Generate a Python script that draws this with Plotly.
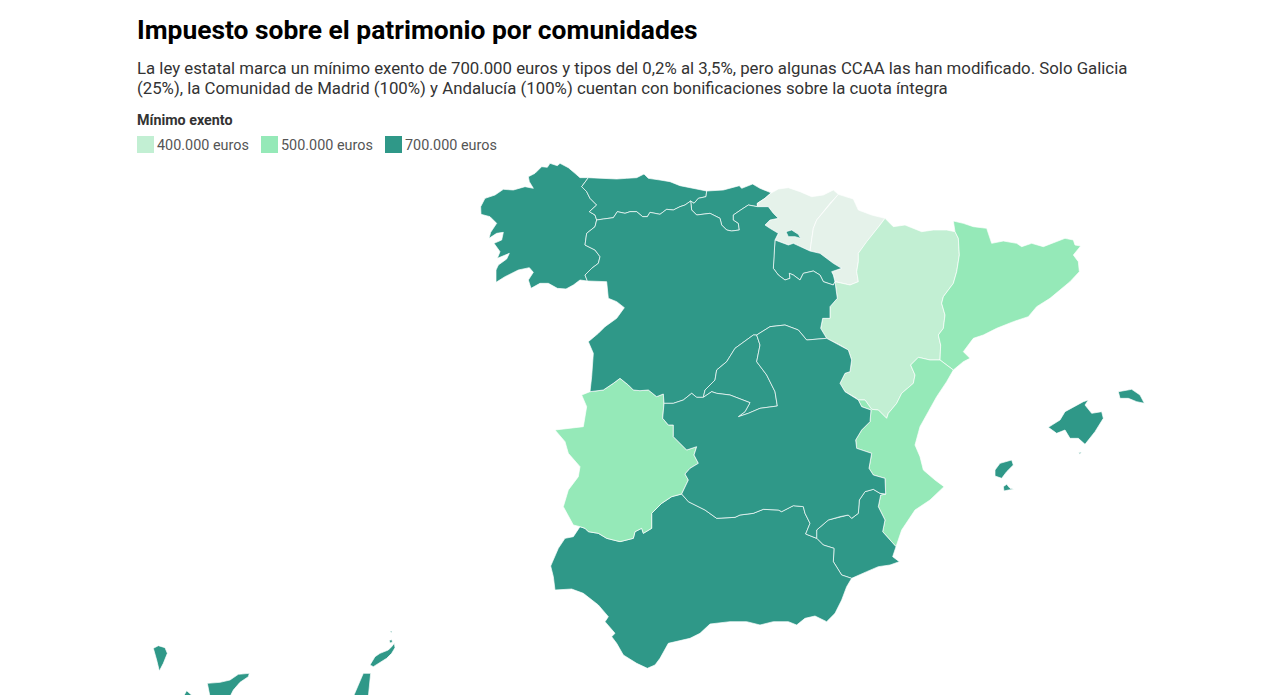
import plotly.graph_objects as go

TITLE = "Impuesto sobre el patrimonio por comunidades"
SUBTITLE = [
    "La ley estatal marca un mínimo exento de 700.000 euros y tipos del 0,2% al 3,5%, pero algunas CCAA las han modificado. Solo Galicia",
    "(25%), la Comunidad de Madrid (100%) y Andalucía (100%) cuentan con bonificaciones sobre la cuota íntegra",
]
LEGEND_TITLE = "Mínimo exento"
LEGEND_LABELS = ["400.000 euros", "500.000 euros", "700.000 euros"]

C_NONE = "#e5f2ea"
C_400 = "#c2efd3"
C_500 = "#95e9b8"
C_700 = "#2f9888"


def crop(x0, y0, pts):
    # outlines were traced on 3x crops of the picture
    return [(x0 + x / 3, y0 + y / 3) for x, y in pts]


def rev(seg):
    return seg[::-1]


# shared borders and coasts
gal_coast = crop(470, 155, [(355,68),(330,68),(315,55),(295,38),(270,25),(262,32),(240,25),(232,37),(215,35),(195,55),(175,65),(178,80),(190,100),(165,95),(130,105),(100,103),(75,120),(45,130),(32,155),(33,178),(60,185),(80,205),(62,232),(57,250),(80,235),(100,232),(95,255),(72,265),(90,290),(82,310),(118,295),(110,312),(85,330),(78,345),(78,382),(105,365),(145,345),(178,338),(190,352),(175,375),(183,400),(210,385),(235,385),(262,400),(288,402),(310,390),(330,375),(352,378)])
gal_ast = crop(470, 155, [(355,68),(335,95),(350,110),(360,130),(380,150),(358,170),(375,180),(380,195)])
gal_cyl = crop(470, 155, [(380,195),(375,215),(350,235),(345,270),(375,285),(390,305),(385,325),(365,340),(345,360),(352,378)])
ast_coast = crop(470, 155, [(355,68),(400,70),(440,72),(470,70),(500,68),(522,57),(535,70),(570,75),(600,80),(630,92),(670,100),(710,108)])
ast_cant = crop(470, 155, [(710,108),(708,125),(685,130),(672,145),(662,138)])
ast_cyl = crop(470, 155, [(380,195),(400,192),(430,188),(442,170),(465,175),(480,170),(500,170),(518,185),(532,185),(540,172),(570,178),(590,163),(610,165),(630,155),(645,150),(662,138)])
cant_coast = crop(470, 155, [(710,108),(760,105),(808,92),(815,100),(848,87),(870,100),(900,112)])
cant_cyl = crop(470, 155, [(662,138),(665,165),(680,180),(720,175),(750,190),(755,210),(770,225),(785,228),(808,225),(805,205),(790,195),(790,180),(812,165),(835,150),(862,155)])
cant_bas = crop(750, 175, [(62,55),(45,70),(22,85),(22,95)])
cyl_bas = crop(750, 175, [(22,95),(55,95),(70,115),(85,130),(60,135),(45,150),(60,160),(85,175),(75,195)])
bas_coast = crop(750, 175, [(62,55),(85,42),(115,38),(150,50),(185,65),(220,60),(250,45),(265,58)])
bas_nav = crop(750, 175, [(265,58),(240,85),(225,105),(200,135),(190,160),(185,190),(180,228)])
rio_bas = crop(750, 175, [(75,195),(115,210),(130,205),(180,228)])
rio_nav = crop(750, 175, [(180,228),(210,235),(250,265),(275,280),(245,290),(250,300),(255,320)])
rio_cyl = crop(750, 175, [(75,195),(72,240),(70,280),(85,300),(105,315),(120,310),(118,295),(130,300),(150,315),(160,295),(190,288),(210,300),(220,320),(250,330),(255,320)])
nav_coast = crop(750, 175, [(265,58),(285,65),(310,72),(325,105),(365,120),(405,130)])
nav_ara = crop(750, 175, [(405,130),(390,150),(350,200),(325,235),(325,260),(320,290),(325,320),(300,330),(255,320)])
ara_north = crop(750, 175, [(405,130),(430,155),(465,150),(490,160),(515,170),(550,165),(590,165),(615,170)])
ara_cat = crop(750, 175, [(615,170),(625,190),(628,240),(620,290),(610,325),(580,365),(575,385),(585,420),(580,460),(565,480),(572,510),(570,555)])
cat_coast = crop(750, 175, [(615,170),(610,138),(640,145),(670,155),(710,160),(725,205),(760,198),(800,205),(815,215),(845,205),(880,215),(905,205),(945,190),(970,195),(975,210),(992,213),(970,240),(985,260),(988,290),(960,320),(930,345),(900,370),(860,395),(835,425),(790,440),(740,460),(700,480),(670,490),(640,530),(660,550),(640,560)])
cat_val = crop(790, 350, [(450,30),(470,45),(490,60)])
val_coast = crop(790, 350, [(490,60),(470,95),(440,140),(415,185),(390,230),(375,285),(390,320),(400,360),(435,390),(462,410),(420,450),(375,480),(350,520),(335,540),(318,590)])
ara_val = crop(790, 350, [(450,30),(420,30),(385,22),(362,45),(375,75),(370,100),(335,130),(320,160),(295,190),(290,205),(265,180),(245,178),(225,150),(205,150)])
clm_val = crop(790, 350, [(205,150),(215,170),(243,180),(240,215),(215,240),(197,270),(200,295),(245,310),(237,355),(250,375),(285,385),(287,432)])
mur_val = crop(790, 350, [(287,432),(272,435),(265,470),(285,510),(278,545),(318,590)])
clm_mur = crop(790, 350, [(80,565),(80,540),(115,510),(150,500),(175,495),(185,505),(205,490),(208,450),(225,425),(250,418),(270,430),(287,432)])
mur_coast = crop(790, 350, [(318,590),(308,620),(328,635),(300,645),(265,650),(230,665),(191,683)])
and_mur = crop(540, 490, [(935,265),(905,255),(880,215),(882,175),(850,165),(830,145)])
and_clm = crop(540, 490, [(830,145),(797,132),(810,100),(795,70),(790,50),(760,47),(725,65),(715,60),(670,58),(640,70),(600,75),(585,82),(530,85),(495,60),(445,35),(425,12)])
and_coast = crop(540, 490, [(935,265),(920,290),(905,330),(885,370),(860,395),(825,378),(795,385),(770,405),(745,395),(700,395),(660,405),(620,395),(570,395),(510,402),(480,430),(450,445),(385,460),(360,505),(345,525),(322,535),(290,520),(250,495),(230,460),(215,440),(225,430),(195,395),(205,380),(175,345),(130,310),(95,297),(45,300),(40,260),(32,228),(55,175),(75,145),(100,140),(120,110)])
ext_and = crop(540, 490, [(120,110),(135,115),(145,125),(175,130),(200,145),(240,155),(280,145),(285,125),(305,115),(310,130),(335,115),(335,70),(365,40),(395,20),(425,12)])
ext_clm = crop(540, 320, [(425,522),(445,480),(435,462),(450,445),(475,430),(462,405),(470,380),(440,390),(400,350),(400,315),(385,315),(368,295),(372,250)])
ext_cyl = crop(540, 320, [(372,250),(370,222),(350,230),(325,210),(300,212),(280,210),(265,195),(240,175),(220,190),(190,210),(150,215)])
ext_west = crop(540, 320, [(150,215),(125,225),(140,260),(130,320),(45,330),(75,365),(85,400),(120,440),(115,470),(85,510),(70,560)]) + crop(540, 490, [(100,105),(120,110)])
cyl_por = crop(470, 155, [(352,378),(410,380),(415,430),(440,440),(463,458),(440,490),(405,515),(385,535)]) + crop(540, 320, [(145,65),(160,100),(155,170),(150,215)])
clm_cyl = crop(540, 320, [(372,250),(400,250),(430,240),(455,220),(470,232),(490,232)])
cyl_mad = crop(540, 320, [(490,232),(495,210),(525,180),(530,150),(560,125),(585,85),(640,45),(650,45)])
clm_mad = crop(540, 320, [(490,232),(515,215),(530,220),(570,225),(630,248),(615,275),(595,290),(625,280),(660,265),(712,258),(705,215),(680,165),(650,125),(660,75),(650,45)])
clm_cyl2 = crop(540, 320, [(650,45),(690,20),(735,15),(775,30),(800,60),(860,55)])
ara_cyl = crop(750, 175, [(255,320),(262,370),(240,395),(240,430),(218,430),(212,460),(230,490)])
ara_clm = crop(750, 175, [(230,490),(270,510),(295,525)]) + crop(790, 350, [(185,30),(180,65),(165,70),(150,100),(165,125),(200,145),(205,150)])

REGIONS = {
    "Galicia": (C_700, [gal_coast + rev(gal_cyl) + rev(gal_ast)]),
    "Asturias": (C_700, [ast_coast + ast_cant + rev(ast_cyl) + rev(gal_ast)]),
    "Cantabria": (C_700, [cant_coast + cant_bas + rev(cant_cyl) + rev(ast_cant)]),
    "País Vasco": (C_NONE, [bas_coast + bas_nav + rev(rio_bas) + rev(cyl_bas) + rev(cant_bas)]),
    "Navarra": (C_NONE, [nav_coast + nav_ara + rev(rio_nav) + rev(bas_nav)]),
    "La Rioja": (C_700, [rio_bas + rio_nav + rev(rio_cyl)]),
    "Aragón": (C_400, [ara_north + ara_cat + ara_val + rev(ara_clm) + rev(ara_cyl) + rev(nav_ara)]),
    "Cataluña": (C_500, [cat_coast + rev(cat_val) + rev(ara_cat)]),
    "Comunidad Valenciana": (C_500, [cat_val + val_coast + rev(mur_val) + rev(clm_val) + rev(ara_val)]),
    "Murcia": (C_700, [clm_mur + mur_val + mur_coast + and_mur]),
    "Andalucía": (C_700, [and_coast + ext_and + rev(and_clm) + rev(and_mur)]),
    "Extremadura": (C_500, [ext_cyl + ext_west + ext_and + ext_clm]),
    "Castilla y León": (C_700, [rev(gal_cyl) + ast_cyl + cant_cyl[1:] + cyl_bas + rio_cyl + ara_cyl + rev(clm_cyl2) + rev(cyl_mad) + rev(clm_cyl) + ext_cyl + rev(cyl_por)]),
    "Madrid": (C_700, [cyl_mad + rev(clm_mad)]),
    "Castilla-La Mancha": (C_700, [clm_cyl + clm_mad + clm_cyl2 + ara_clm + clm_val + rev(clm_mur) + and_clm + ext_clm]),
    "Treviño": (C_700, [crop(750, 175, [(108,170),(125,165),(145,178),(152,190),(135,185),(115,185)])]),
    "Baleares": (C_700, [
        crop(790, 350, [(775,232),(810,210),(825,185),(860,165),(880,155),(895,150),(885,165),(905,190),(935,185),(940,205),(915,245),(885,283),(865,265),(840,265),(825,240),(800,250)]),
        crop(790, 350, [(985,125),(1025,118),(1050,135),(1063,160),(1040,155),(1015,145),(990,145)]),
        crop(790, 350, [(615,360),(630,340),(665,330),(670,345),(650,365),(635,385),(615,378)]),
        crop(790, 350, [(640,410),(650,403),(660,415),(672,418),(655,420),(642,423)]),
        crop(790, 350, [(866,308),(874,306),(870,313)]),
    ]),
    "Canarias": (C_700, [
        crop(130, 625, [(70,70),(85,62),(105,68),(112,85),(100,115),(88,138),(80,105)]),
        crop(130, 625, [(232,175),(270,172),(300,165),(325,148),(358,145),(355,155),(330,172),(310,195),(300,215),(240,215)]),
        crop(130, 625, [(160,215),(170,197),(190,215)]),
        crop(130, 625, [(720,120),(735,95),(750,85),(775,75),(785,65),(793,55),(795,68),(785,85),(770,100),(755,110),(740,118),(730,125)]),
        crop(130, 625, [(670,215),(690,170),(700,145),(722,145),(715,215)]),
        crop(130, 625, [(778,46),(786,44),(787,52),(780,54)]),
        crop(130, 625, [(780,19),(786,18),(785,24)]),
    ]),
}

fig = go.Figure()

for name, (color, parts) in REGIONS.items():
    xs, ys = [], []
    for part in parts:
        xs += [p[0] for p in part] + [part[0][0], None]
        ys += [p[1] for p in part] + [part[0][1], None]
    fig.add_trace(go.Scatter(
        x=xs, y=ys, name=name, mode="lines", fill="toself", fillcolor=color,
        line=dict(color="rgba(255,255,255,0.85)", width=0.8),
        hoverinfo="name", showlegend=False,
    ))

# header
fig.add_annotation(text="<b>" + TITLE + "</b>", x=135, y=30, font=dict(size=26.4, color="#000000"))
for line, y in zip(SUBTITLE, [68, 88]):
    fig.add_annotation(text=line, x=135, y=y, font=dict(size=16.8, color="#333333"))
fig.add_annotation(text="<b>" + LEGEND_TITLE + "</b>", x=135, y=120, font=dict(size=14.3, color="#333333"))

for label, color, x in zip(LEGEND_LABELS, [C_400, C_500, C_700], [137, 261, 385]):
    fig.add_shape(type="rect", x0=x, x1=x + 17, y0=136, y1=153, fillcolor=color, line_width=0)
    fig.add_annotation(text=label, x=x + 18, y=145, font=dict(size=14.4, color="#555555"))

fig.update_annotations(xref="x", yref="y", xanchor="left", yanchor="middle", showarrow=False, align="left")
# the page body has an 8px margin, so the axes start at 8
fig.update_layout(
    width=1265,
    height=687,
    margin=dict(l=0, r=0, t=0, b=0),
    paper_bgcolor="white",
    plot_bgcolor="white",
    font=dict(family="Roboto"),
    xaxis=dict(range=[8, 1273], visible=False),
    yaxis=dict(range=[695, 8], visible=False),
)

fig.write_html("out.html")
